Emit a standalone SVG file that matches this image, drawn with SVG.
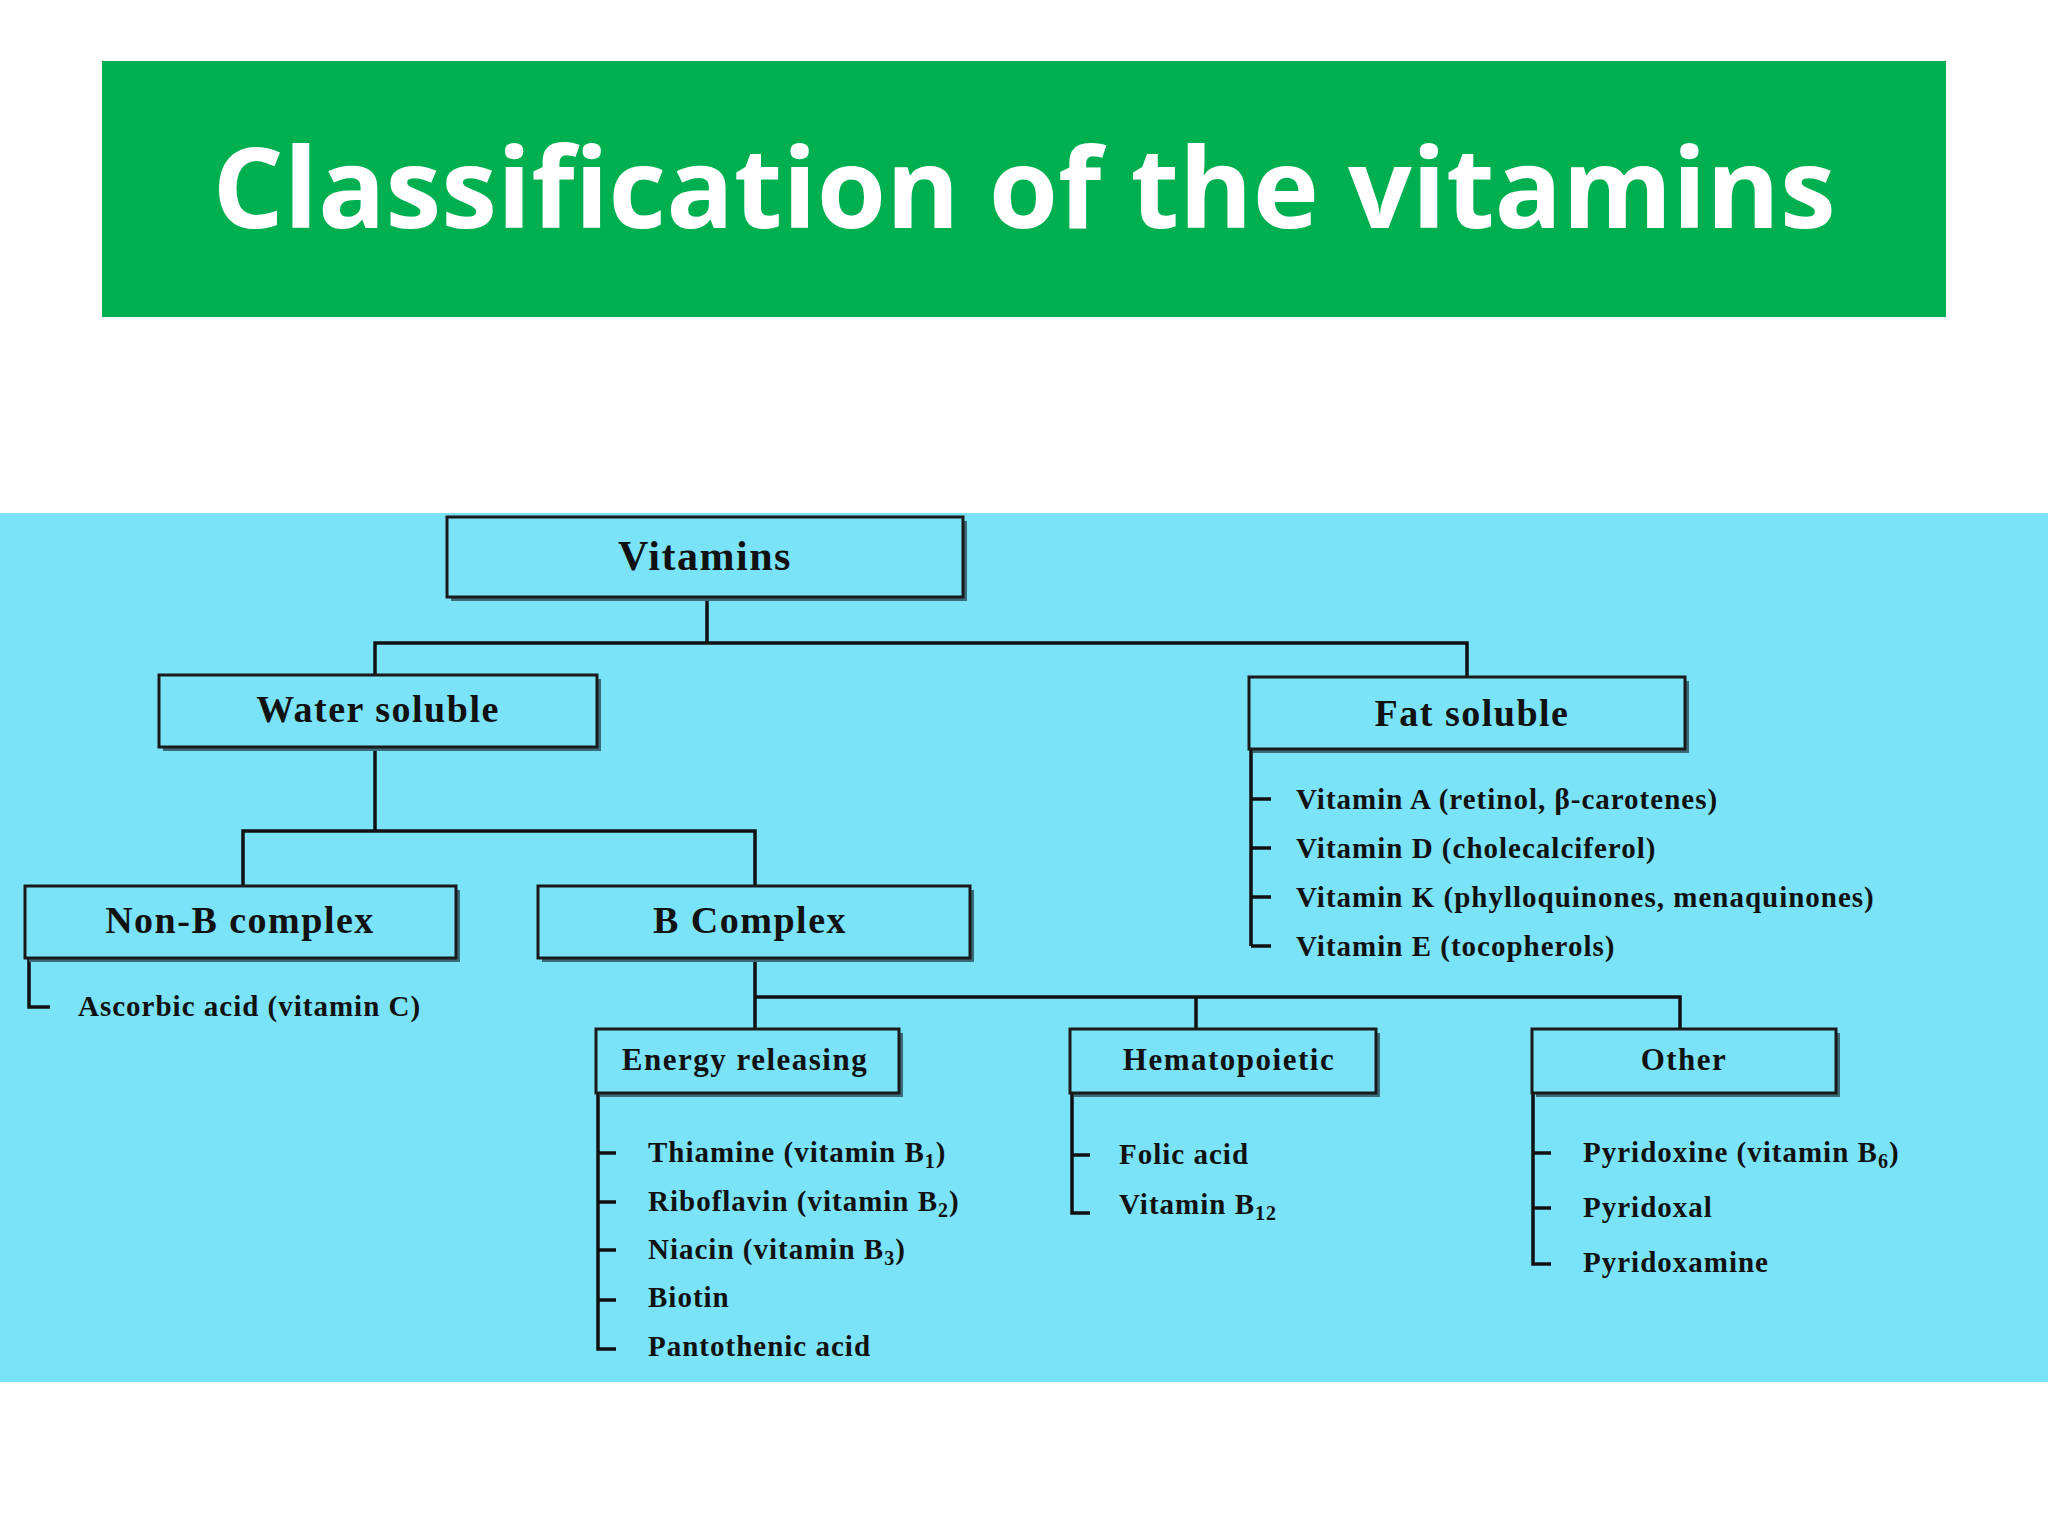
<svg xmlns="http://www.w3.org/2000/svg" width="2048" height="1536" viewBox="0 0 2048 1536">
<style>
.box{fill:#7ae3f8;stroke:#1a1a1a;stroke-width:3}
.sh{fill:#3a6b78}
.bl{font-family:"Liberation Serif",serif;font-weight:bold;fill:#111;text-anchor:middle;letter-spacing:1.5px}
.t{font-family:"Liberation Serif",serif;font-weight:bold;font-size:29px;fill:#111;letter-spacing:1px}
.c line,.c path{stroke:#111;stroke-width:3.5;fill:none}
</style>
<rect width="2048" height="1536" fill="#fff"/>
<rect x="102" y="61" width="1844" height="256" fill="#00b050"/>
<text x="1024" y="228" font-family="'Open Sans',sans-serif" font-weight="bold" font-size="112" fill="#fff" text-anchor="middle">Classification of the vitamins</text>
<rect x="0" y="513" width="2048" height="869" fill="#7ae3f8"/>
<g class="c">
<path d="M707 597V643M375 675V643H1467V677"/>
<path d="M375 747V831M243 886V831H755V886"/>
<path d="M755 957V1029M755 997H1680V1029M1196 997V1029"/>
<path d="M1251 748V946M1251 799H1271M1251 848H1271M1251 897H1271M1251 946H1271"/>
<path d="M29 957V1007H50"/>
<path d="M598 1093V1349H616M598 1153H616M598 1202H616M598 1250H616M598 1300H616"/>
<path d="M1072 1093V1213H1090M1072 1155H1090"/>
<path d="M1533 1093V1264H1551M1533 1153H1551M1533 1208H1551"/>
</g>
<g id="vitamins"><rect class="sh" x="451" y="521" width="516" height="80"/><rect class="box" x="447" y="517" width="516" height="80"/><text class="bl" x="705" y="570" font-size="42">Vitamins</text></g>
<g id="water"><rect class="sh" x="163" y="679" width="438" height="72"/><rect class="box" x="159" y="675" width="438" height="72"/><text class="bl" x="378" y="722" font-size="38">Water soluble</text></g>
<g id="fat"><rect class="sh" x="1253" y="681" width="436" height="72"/><rect class="box" x="1249" y="677" width="436" height="72"/><text class="bl" x="1472" y="726" font-size="38">Fat soluble</text></g>
<g id="nonb"><rect class="sh" x="29" y="890" width="431" height="72"/><rect class="box" x="25" y="886" width="431" height="72"/><text class="bl" x="240" y="933" font-size="38">Non-B complex</text></g>
<g id="bcomplex"><rect class="sh" x="542" y="890" width="432" height="72"/><rect class="box" x="538" y="886" width="432" height="72"/><text class="bl" x="750" y="933" font-size="38">B Complex</text></g>
<g id="energy"><rect class="sh" x="600" y="1033" width="303" height="64"/><rect class="box" x="596" y="1029" width="303" height="64"/><text class="bl" x="745" y="1070" font-size="31">Energy releasing</text></g>
<g id="hemato"><rect class="sh" x="1074" y="1033" width="306" height="64"/><rect class="box" x="1070" y="1029" width="306" height="64"/><text class="bl" x="1229" y="1070" font-size="31">Hematopoietic</text></g>
<g id="other"><rect class="sh" x="1536" y="1033" width="304" height="64"/><rect class="box" x="1532" y="1029" width="304" height="64"/><text class="bl" x="1684" y="1070" font-size="31">Other</text></g>
<g id="fatlist">
<text class="t" x="1296" y="809">Vitamin A (retinol, β-carotenes)</text>
<text class="t" x="1296" y="858">Vitamin D (cholecalciferol)</text>
<text class="t" x="1296" y="907">Vitamin K (phylloquinones, menaquinones)</text>
<text class="t" x="1296" y="956">Vitamin E (tocopherols)</text>
</g>
<g id="nonblist"><text class="t" x="78" y="1016">Ascorbic acid (vitamin C)</text></g>
<g id="energylist">
<text class="t" x="648" y="1162">Thiamine (vitamin B<tspan font-size="20" dy="6">1</tspan><tspan dy="-6">)</tspan></text>
<text class="t" x="648" y="1211">Riboflavin (vitamin B<tspan font-size="20" dy="6">2</tspan><tspan dy="-6">)</tspan></text>
<text class="t" x="648" y="1259">Niacin (vitamin B<tspan font-size="20" dy="6">3</tspan><tspan dy="-6">)</tspan></text>
<text class="t" x="648" y="1307">Biotin</text>
<text class="t" x="648" y="1356">Pantothenic acid</text>
</g>
<g id="hematolist">
<text class="t" x="1119" y="1164">Folic acid</text>
<text class="t" x="1119" y="1214">Vitamin B<tspan font-size="20" dy="6">12</tspan></text>
</g>
<g id="otherlist">
<text class="t" x="1583" y="1162">Pyridoxine (vitamin B<tspan font-size="20" dy="6">6</tspan><tspan dy="-6">)</tspan></text>
<text class="t" x="1583" y="1217">Pyridoxal</text>
<text class="t" x="1583" y="1272">Pyridoxamine</text>
</g>
</svg>
